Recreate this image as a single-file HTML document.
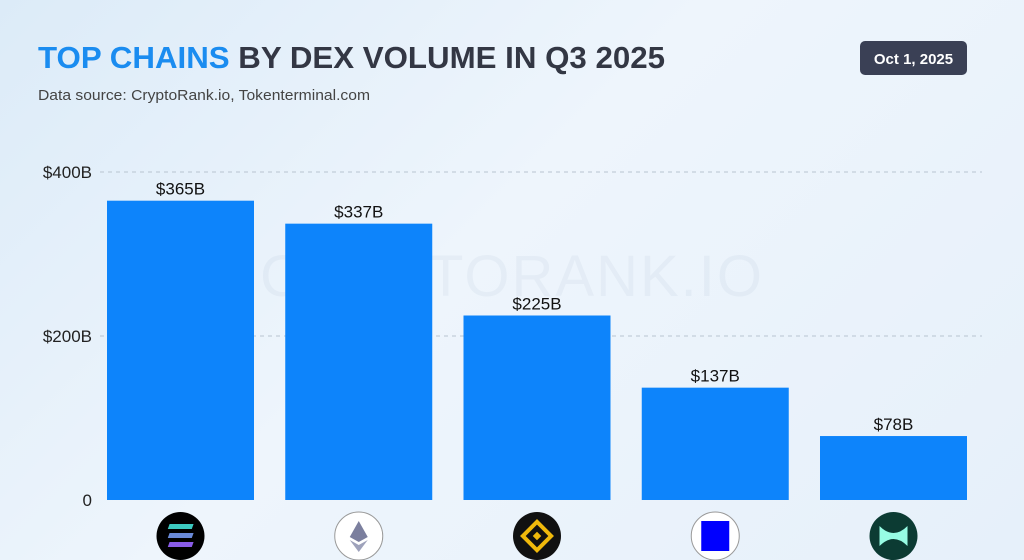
<!DOCTYPE html>
<html><head><meta charset="utf-8"><style>
html,body{margin:0;padding:0;width:1024px;height:560px;overflow:hidden}
body{background:linear-gradient(135deg,#dcebf8 0%,#eef5fc 45%,#e6f0fa 100%);font-family:"Liberation Sans",sans-serif}
</style></head><body>
<svg id="chart" width="1024" height="560" viewBox="0 0 1024 560" xmlns="http://www.w3.org/2000/svg" font-family="Liberation Sans, sans-serif">
<text x="38" y="68" font-size="31" font-weight="bold" textLength="627" lengthAdjust="spacingAndGlyphs"><tspan fill="#1a8cf0">TOP CHAINS</tspan><tspan fill="#333744"> BY DEX VOLUME IN Q3 2025</tspan></text>
<text x="38" y="100" font-size="15" fill="#444" textLength="332" lengthAdjust="spacingAndGlyphs">Data source: CryptoRank.io, Tokenterminal.com</text>
<g>
<rect x="860" y="41" width="107" height="34" rx="5" fill="#3a4055"/>
<text x="913.5" y="64" font-size="15" fill="#fff" text-anchor="middle" font-weight="bold">Oct 1, 2025</text>
</g>
<text x="512" y="296" font-size="58" fill="#1a3a6a" fill-opacity="0.04" text-anchor="middle" letter-spacing="2">CRYPTORANK.IO</text>
<g id="grid"></g><g id="bars"></g><g id="icons"></g>
</svg>
<script>
const categories=["Solana","Ethereum","BNB Chain","Base","Hyperliquid"];
const values=[365,337,225,137,78];
const valueLabels=["$365B","$337B","$225B","$137B","$78B"];
const ticks=[0,200,400];
const tickLabels=["0","$200B","$400B"];
const NS="http://www.w3.org/2000/svg";
const y0=500,ppu=0.82;
const y=v=>y0-v*ppu;
const plotL=107,step=178.25,bw=147;
const x=i=>plotL+i*step;
function mk(t,a,p){const e=document.createElementNS(NS,t);for(const k in a)e.setAttribute(k,a[k]);p.appendChild(e);return e;}
const grid=document.getElementById('grid');
ticks.forEach((t,i)=>{
  if(t>0){const l=mk('line',{x1:100,x2:982,y1:y(t),y2:y(t),stroke:'#b8c4d0','stroke-dasharray':'4 4'},grid);
  
  }
  const tx=mk('text',{x:92,y:y(t)+6,'font-size':17,fill:'#222','text-anchor':'end'},grid);
  tx.textContent=tickLabels[i];
  
  
});
const bars=document.getElementById('bars'),icons=document.getElementById('icons');
const iconFill=["#000","#fff","#111","#fff","#0c3b33"];
values.forEach((v,i)=>{
  const r=mk('rect',{x:x(i),y:y(v),width:bw,height:y0-y(v),fill:'#0d84fb'},bars);
  
  
  const t=mk('text',{x:x(i)+bw/2,y:y(v)-6,'font-size':17,fill:'#111','text-anchor':'middle'},bars);
  t.textContent=valueLabels[i];
  
  
  const cx=x(i)+bw/2,cy=536;
  const g=mk('g',{},icons);
  
  
  mk('circle',{cx:cx,cy:cy,r:24,fill:iconFill[i],stroke:'#999','stroke-width':iconFill[i]=='#fff'?1:0},g);
  if(i==0){[-9,0,9].forEach(d=>mk('rect',{x:cx-12,y:cy+d-3,width:24,height:5,fill:d<0?'#3cc9c0':d>0?'#8a5ce8':'#6a8ad8',transform:'skewX(-20)','transform-origin':cx+' '+(cy+d)},g));}
  if(i==1){mk('polygon',{points:`${cx},${cy-15} ${cx+9},${cy+1} ${cx},${cy+6} ${cx-9},${cy+1}`,fill:'#7b7f9e'},g);mk('polygon',{points:`${cx},${cy+9} ${cx+9},${cy+4} ${cx},${cy+16} ${cx-9},${cy+4}`,fill:'#9ea2bb'},g);}
  if(i==2){mk('rect',{x:cx-10,y:cy-10,width:20,height:20,fill:'none',stroke:'#f0b90b','stroke-width':4,transform:`rotate(45 ${cx} ${cy})`},g);mk('rect',{x:cx-3,y:cy-3,width:6,height:6,fill:'#f0b90b',transform:`rotate(45 ${cx} ${cy})`},g);}
  if(i==3){mk('rect',{x:cx-14,y:cy-15,width:28,height:30,fill:'#0000ff'},g);}
  if(i==4){mk('path',{d:`M${cx-14},${cy-10} Q${cx},${cy+4} ${cx+14},${cy-10} L${cx+14},${cy+10} Q${cx},${cy-4} ${cx-14},${cy+10} Z`,fill:'#97fce4'},g);}
});
</script>
</body></html>
